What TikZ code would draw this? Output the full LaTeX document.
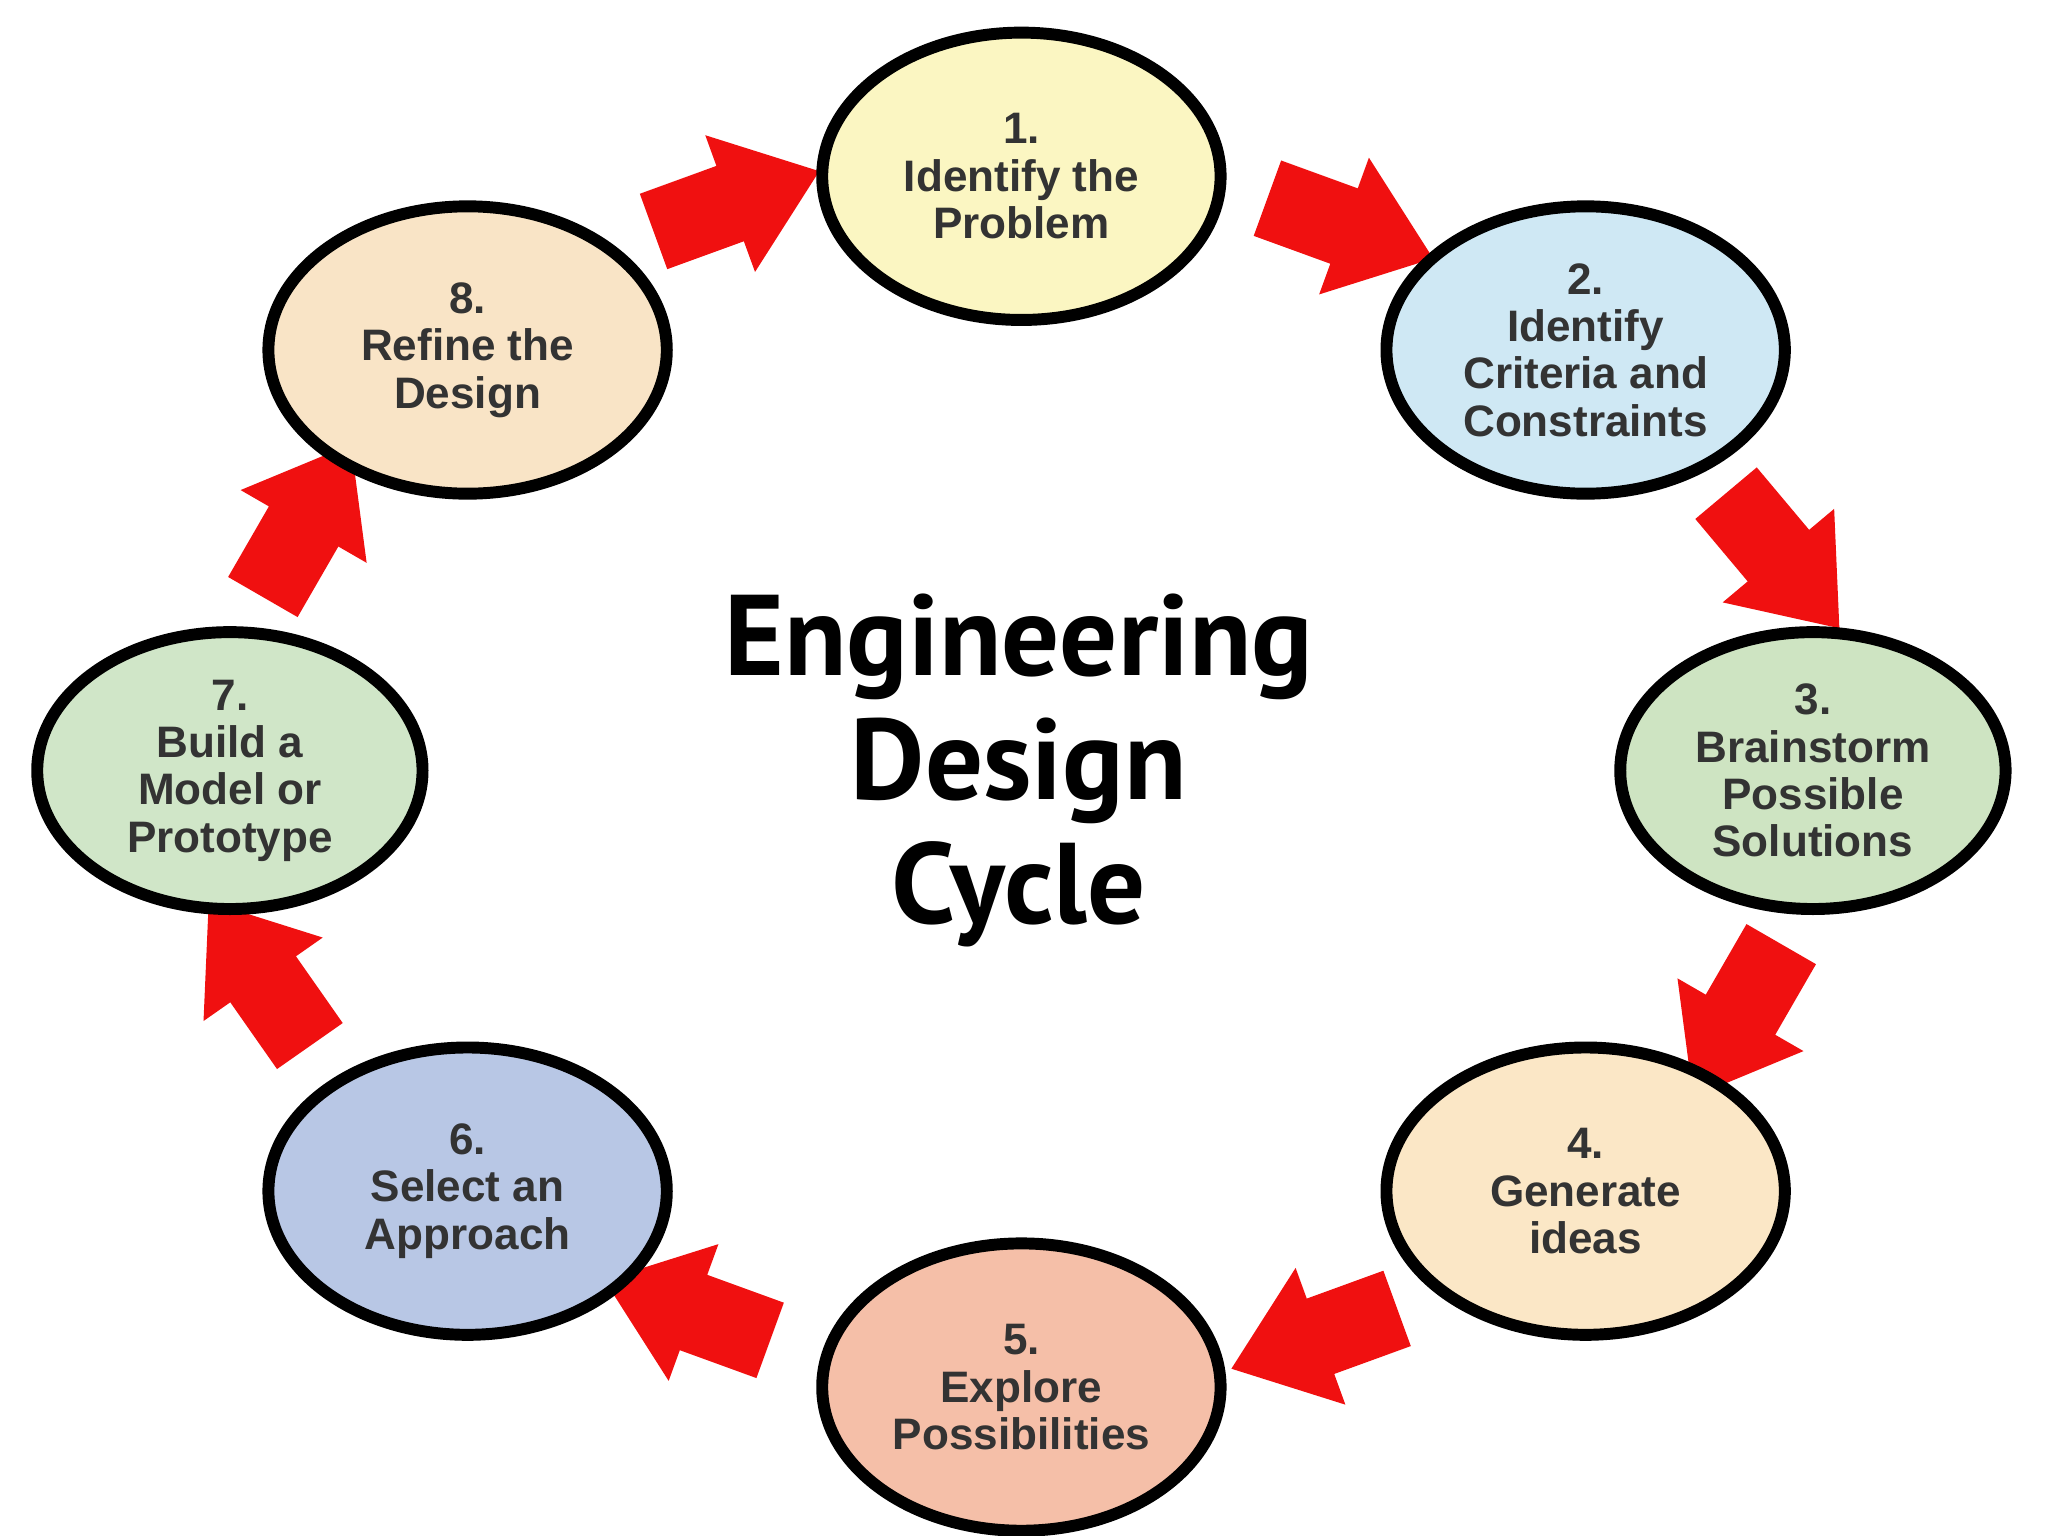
\documentclass[tikz,border=0pt]{standalone}
\usepackage{fontspec}
\setmainfont{Liberation Sans}
\newfontfamily\titlefont{PT Sans}
\usetikzlibrary{shapes.arrows,shapes.geometric}
\definecolor{c1}{HTML}{FBF6C2}
\definecolor{c2}{HTML}{CFE8F4}
\definecolor{c3}{HTML}{CEE4C2}
\definecolor{c4}{HTML}{FBE7C6}
\definecolor{c5}{HTML}{F5BFA8}
\definecolor{c6}{HTML}{B8C7E5}
\definecolor{c7}{HTML}{D0E6C8}
\definecolor{c8}{HTML}{F9E4C6}
\definecolor{redarr}{HTML}{F01010}
\definecolor{txt}{HTML}{333333}
\tikzset{
  stage/.style={ellipse,draw=black,line width=2.6pt,minimum width=3.05cm,minimum height=2.2cm,align=center,font=\bfseries\fontsize{9.6}{10.3}\selectfont,text=txt,inner sep=0pt},
  redarrow/.style={single arrow,fill=redarr,draw=none,minimum height=1.35cm,minimum width=1.1cm,single arrow head extend=0.25cm,inner xsep=0pt,inner ysep=0.3cm,text width=0pt,single arrow tip angle=75}
}
\begin{document}
\begin{tikzpicture}
\useasboundingbox (0,0) rectangle (15.68,11.76);
\fill[white] (0,0) rectangle (15.68,11.76);
\node[redarrow,rotate=-20] (a12) at (10.15,10.08) {};
\node[redarrow,rotate=-50] (a23) at (13.52,7.62) {};
\node[redarrow,rotate=-120] (a34) at (13.40,4.12) {};
\node[redarrow,rotate=-160] (a45) at (10.25,1.58) {};
\node[redarrow,rotate=160] (a56) at (5.45,1.66) {};
\node[redarrow,rotate=125] (a67) at (2.10,4.14) {};
\node[redarrow,rotate=60] (a78) at (2.25,7.60) {};
\node[redarrow,rotate=20] (a81) at (5.45,10.15) {};
\node[stage,fill=c1] (s1) at (7.82,10.41) {1.\\Identify the\\Problem};
\node[stage,fill=c2] (s2) at (12.14,9.08) {2.\\Identify\\Criteria and\\Constraints};
\node[stage,fill=c3,minimum width=2.95cm,minimum height=2.12cm] (s3) at (13.88,5.86) {3.\\Brainstorm\\Possible\\Solutions};
\node[stage,fill=c4] (s4) at (12.14,2.64) {4.\\Generate\\ideas};
\node[stage,fill=c5] (s5) at (7.82,1.14) {5.\\Explore\\Possibilities};
\node[stage,fill=c6] (s6) at (3.58,2.64) {6.\\Select an\\Approach};
\node[stage,fill=c7,minimum width=2.95cm,minimum height=2.12cm] (s7) at (1.76,5.86) {7.\\Build a\\Model or\\Prototype};
\node[stage,fill=c8] (s8) at (3.58,9.08) {8.\\Refine the\\Design};
\node[font=\titlefont\bfseries\fontsize{25}{27}\selectfont,align=center] (title) at (7.80,5.86) {Engineering\\Design\\Cycle};
\end{tikzpicture}
\end{document}
